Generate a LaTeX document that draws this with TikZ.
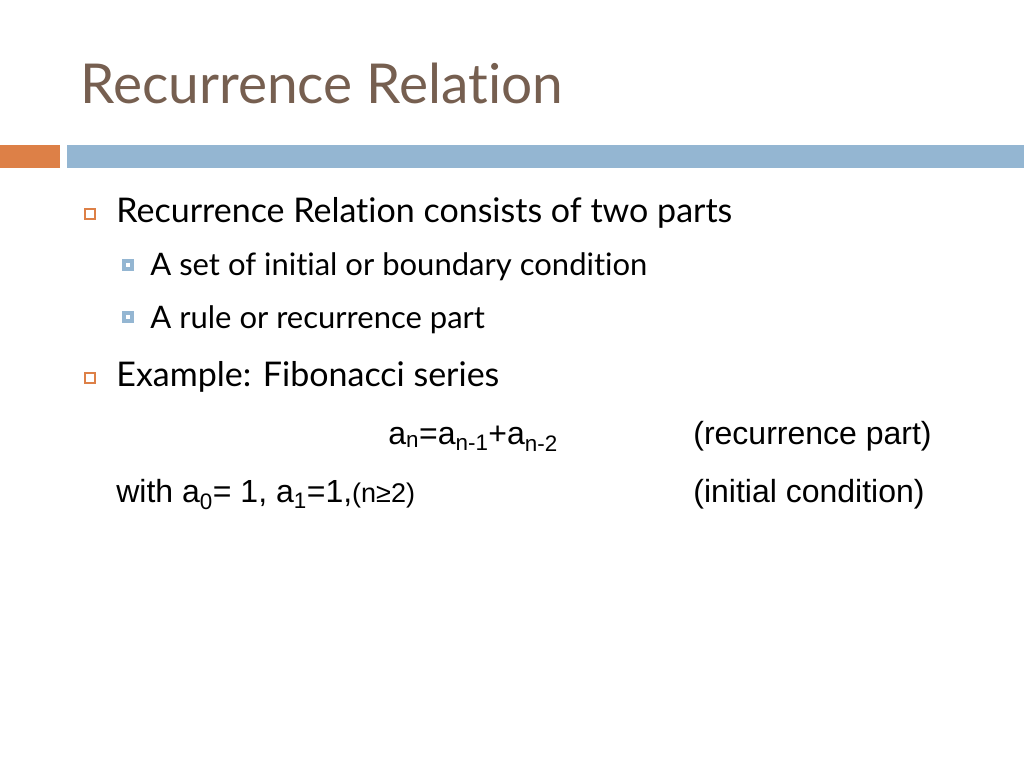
\documentclass[tikz,border=0pt]{standalone}
\usepackage{fontspec}
\setmainfont{Lato}[Ligatures={NoCommon,NoRare}]
\newfontfamily\arialfont{Liberation Sans}
\definecolor{titlebrown}{RGB}{118,95,80}
\definecolor{barorange}{RGB}{221,128,71}
\definecolor{barblue}{RGB}{148,182,210}
\tikzset{every picture/.style={line width=0.75pt}}
\tikzset{
	title text/.style={anchor=base west, inner sep=0pt, text=titlebrown, font=\fontsize{55}{66}\selectfont},
	body text/.style={anchor=base west, inner sep=0pt, font=\fontsize{34}{41}\selectfont},
	sub text/.style={anchor=base west, inner sep=0pt, font=\fontsize{31}{37}\selectfont},
	formula text/.style={anchor=base west, inner sep=0pt, font=\arialfont\fontsize{32}{38}\selectfont}}
\begin{document}
\begin{tikzpicture}[x=1pt,y=1pt,yscale=-1,xscale=1]
	\useasboundingbox (0,0) rectangle (1024,768);

	%Shape: Rectangle [id:bar_orange]
	\fill [barorange] (0,145) rectangle (60,168) ;
	%Shape: Rectangle [id:bar_blue]
	\fill [barblue] (67,145) rectangle (1024,168) ;
	%Shape: Square [id:bullet_one]
	\draw [barorange, line width=1.2pt] (85,209) rectangle (95,219) ;
	%Shape: Square [id:bullet_two]
	\draw [barorange, line width=1.2pt] (85,373) rectangle (95,383) ;
	%Shape: Square [id:sub_bullet_one]
	\draw [barblue, fill=white, line width=3.5pt] (124,261) rectangle (132,269) ;
	%Shape: Square [id:sub_bullet_two]
	\draw [barblue, fill=white, line width=3.5pt] (124,313) rectangle (132,321) ;

	% Text Node
	\node (title) [title text] at (80,103) {Recurrence Relation};
	% Text Node
	\node (parts) [body text] at (116,222) {Recurrence Relation consists of two parts};
	% Text Node
	\node (initial) [sub text] at (150,275) {A set of initial or boundary condition};
	% Text Node
	\node (rule) [sub text] at (150,328) {A rule or recurrence part};
	% Text Node
	\node (example) [body text] at (116,386) {Example: Fibonacci series};
	% Text Node
	\node (formula) [formula text] at (388,444) {a\textsubscript{n}=a\textsubscript{n-1}+a\textsubscript{n-2}};
	% Text Node
	\node (recpart) [formula text] at (693,444) {(recurrence part)};
	% Text Node
	\node (with) [formula text] at (116,502) {with a\textsubscript{0}= 1, a\textsubscript{1}=1,{\fontsize{27}{32}\selectfont(n≥2)}};
	% Text Node
	\node (initcond) [formula text] at (693,502) {(initial condition)};

\end{tikzpicture}
\end{document}
